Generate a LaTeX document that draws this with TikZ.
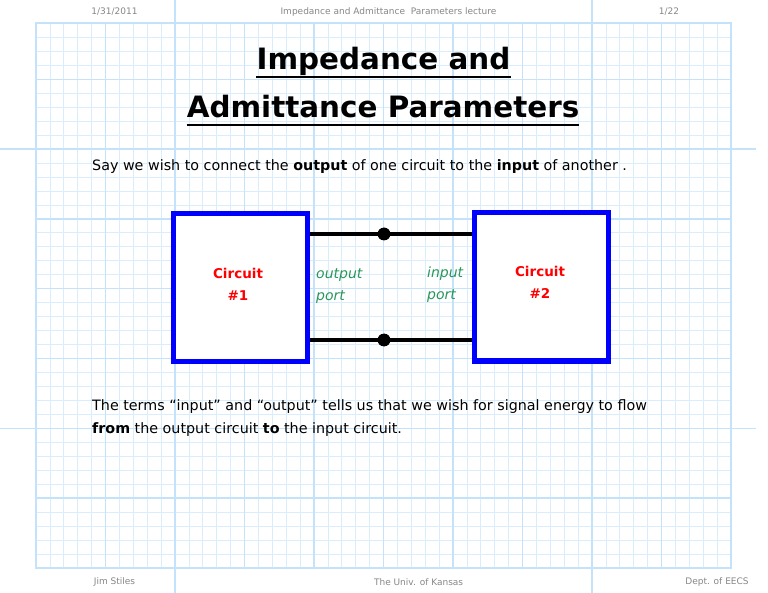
\documentclass[tikz,border=0pt]{standalone}
\usepackage{fontspec}
\setmainfont{DejaVu Sans}
\definecolor{gminor}{RGB}{218,237,252}
\definecolor{gmajor}{RGB}{196,227,250}
\definecolor{hdrgray}{RGB}{135,135,135}
\definecolor{pgreen}{RGB}{40,150,90}
\begin{document}
\begin{tikzpicture}[x=1pt,y=-1pt,
  minorline/.style={draw=gminor, line width=0.8pt},
  majorline/.style={draw=gmajor, line width=1.3pt},
  edgeline/.style={draw=gmajor, line width=2pt},
  hdr/.style={inner sep=0pt, text=hdrgray, font=\fontsize{9}{11}\selectfont},
  ttl/.style={inner sep=0pt, anchor=base, font=\fontsize{29.4}{33}\selectfont\bfseries},
  uline/.style={line width=2pt},
  body/.style={inner sep=0pt, anchor=base west, font=\fontsize{14.3}{17}\selectfont},
  cbox/.style={draw=blue, fill=white, line width=5pt, minimum width=134pt, minimum height=148pt, inner sep=0pt},
  clabel/.style={inner sep=0pt, text=red, align=center, font=\fontsize{13.5}{22}\selectfont\bfseries},
  plabel/.style={inner sep=0pt, anchor=west, text=pgreen, align=left, font=\fontsize{14}{22}\selectfont\itshape},
  wire/.style={line width=4pt},
  dotnode/.style={circle, fill=black, inner sep=0pt, minimum size=12.6pt}
]
\useasboundingbox[fill=white] (0,0) rectangle (768,593);
% grid
\foreach \i in {0,...,50} \draw[minorline] ({36+13.9*\i},23.5) -- ({36+13.9*\i},568);
\foreach \j in {0,...,39} \draw[minorline] (36,{23.5+13.96*\j}) -- (731,{23.5+13.96*\j});
\foreach \i in {0,5,...,50} \draw[majorline] ({36+13.9*\i},23.5) -- ({36+13.9*\i},568);
\foreach \j in {4,9,...,39} \draw[majorline] (36,{23.5+13.96*\j}) -- (731,{23.5+13.96*\j});
\draw[edgeline] (36,23.5) rectangle (731,568);
\draw[majorline] (0,149.1) -- (36,149.1);
\draw[majorline] (731,149.1) -- (756,149.1);
\draw[majorline] (0,428.3) -- (36,428.3);
\draw[majorline] (731,428.3) -- (756,428.3);
\draw[majorline] (175,0) -- (175,23.5);
\draw[majorline] (592,0) -- (592,23.5);
\draw[majorline] (175,568) -- (175,593);
\draw[majorline] (592,568) -- (592,593);
% header / footer
\node[hdr] (h1) at (114.5,11.7) {1/31/2011};
\node[hdr] (h2) at (388.5,11.7) {Impedance and Admittance\ \ Parameters lecture};
\node[hdr] (h3) at (669,11.7) {1/22};
\node[hdr] (f1) at (114.5,581.7) {Jim Stiles};
\node[hdr] (f2) at (418.6,581.7) {The Univ. of Kansas};
\node[hdr] (f3) at (717,581.7) {Dept. of EECS};
% title
\node[ttl] (t1) at (383.5,69.5) {Impedance and};
\node[ttl] (t2) at (383,117.3) {Admittance Parameters};
\draw[uline] ([yshift=-7.3pt]t1.base west) -- ([yshift=-7.3pt]t1.base east);
\draw[uline] ([yshift=-7.7pt]t2.base west) -- ([yshift=-7.7pt]t2.base east);
% text
\node[body] (s1) at (92,170.5) {Say we wish to connect the \textbf{output} of one circuit to the \textbf{input} of another .};
\node[body] (p1) at (92,410.5) {The terms “input” and “output” tells us that we wish for signal energy to flow};
\node[body] (p2) at (92,433.5) {\textbf{from} the output circuit \textbf{to} the input circuit.};
% circuits
\node[cbox] (c1) at (240.5,287.5) {};
\node[cbox] (c2) at (541,287) {};
\node[clabel] (l1) at (238,284) {Circuit\\\#1};
\node[clabel] (l2) at (540,282) {Circuit\\\#2};
\node[dotnode] (d1) at (384,234) {};
\node[dotnode] (d2) at (384,340) {};
\draw[wire] (d1 -| c1.east) -- (d1.center) -- (d1 -| c2.west);
\draw[wire] (d2 -| c1.east) -- (d2.center) -- (d2 -| c2.west);
\node[dotnode] at (d1) {};
\node[dotnode] at (d2) {};
\node[plabel] (o1) at (316,286) {output\\port};
\node[plabel] (i1) at (427,284.5) {input\\port};
\end{tikzpicture}
\end{document}
